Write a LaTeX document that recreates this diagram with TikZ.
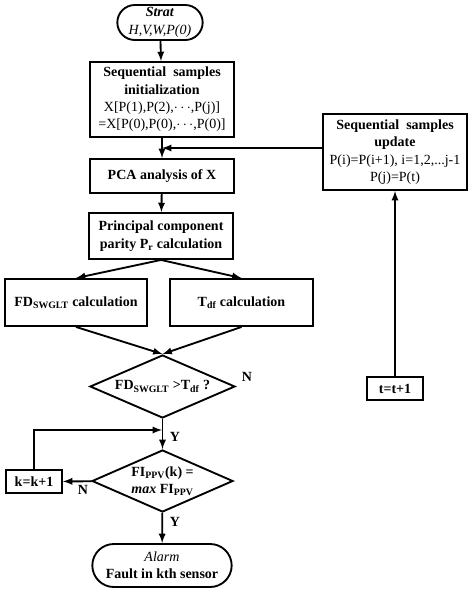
\documentclass[tikz,border=0pt]{standalone}
\usepackage{fontspec}
\setmainfont{Liberation Serif}
\usetikzlibrary{shapes.geometric,shapes.misc}

\begin{document}
\begin{tikzpicture}[x=0.75pt,y=-0.75pt,
  every node/.style={font=\fontsize{10.5}{13}\selectfont},
  box/.style={draw,line width=1.4pt,align=center,inner sep=1pt},
  term/.style={box,rounded rectangle},
  test/.style={box,diamond,aspect=2.3,inner sep=0pt},
  flow/.style={line width=1.4pt,-latex},
  lab/.style={font=\fontsize{10.5}{13}\selectfont\bfseries}]
\useasboundingbox (0,0) rectangle (474,594);
\begin{scope}[]
  % main column
  \node[term,minimum width=88*0.75pt,minimum height=35*0.75pt] (start) at (160,22.5)
    {\textbf{\textit{Strat}}\\ \textit{H,V,W,P(0)}};
  \node[box,minimum width=144*0.75pt,minimum height=75*0.75pt] (init) at (162,99.5)
    {\textbf{Sequential\ \ samples}\\ \textbf{initialization}\\
     X[P(1),P(2),$\cdots$,P(j)]\\ =X[P(0),P(0),$\cdots$,P(0)]};
  \node[box,minimum width=144*0.75pt,minimum height=34*0.75pt] (pca) at (162,176)
    {\textbf{PCA analysis of X}};
  \node[box,minimum width=144*0.75pt,minimum height=46*0.75pt] (princ) at (161,236)
    {\textbf{Principal component}\\ \textbf{parity P\textsubscript{r} calculation}};
  \node[box,minimum width=142*0.75pt,minimum height=47*0.75pt] (fd) at (76,302.5)
    {\textbf{FD\textsubscript{SWGLT} calculation}};
  \node[box,minimum width=143*0.75pt,minimum height=47*0.75pt] (tdf) at (241.5,302.5)
    {\textbf{T\textsubscript{df} calculation}};
  \node[test,minimum width=145*0.75pt,minimum height=63*0.75pt] (cmp) at (162.5,386.5)
    {\textbf{FD\textsubscript{SWGLT} >T\textsubscript{df} ?}};
  \node[test,minimum width=141*0.75pt,minimum height=62*0.75pt] (maxfi) at (162.5,481)
    {\textbf{FI\textsubscript{PPV}(k) =}\\ \textbf{\textit{max} FI\textsubscript{PPV}}};
  \node[box,minimum width=56*0.75pt,minimum height=23*0.75pt] (kinc) at (34,481.5)
    {\textbf{k=k+1}};
  \node[term,minimum width=142*0.75pt,minimum height=43*0.75pt] (alarm) at (162,565.5)
    {\textit{Alarm}\\ \textbf{Fault in kth sensor}};
  % update branch
  \node[box,minimum width=144*0.75pt,minimum height=76*0.75pt] (update) at (395,152)
    {\textbf{Sequential\ \ samples}\\ \textbf{update}\\
     P(i)=P(i+1), i=1,2,...j-1\\ P(j)=P(t)};
  \node[box,minimum width=56*0.75pt,minimum height=23*0.75pt] (tinc) at (395,388.5)
    {\textbf{t=t+1}};
  \coordinate (back) at (162,148);
  \coordinate (loop) at (162,430);

  \draw[flow] (start) -- (init);
  \draw[flow] (init) -- (pca);
  \draw[flow] (pca) -- (princ);
  \draw[flow] (princ.south) -- (fd.north);
  \draw[flow] (princ.south) -- (tdf.north);
  \draw[flow] (fd.south) -- (cmp.north);
  \draw[flow] (tdf.south) -- (cmp.north);
  \draw[flow] (cmp) -- (maxfi);
  \draw[flow] (maxfi) -- (alarm);
  \draw[flow] (maxfi) -- (kinc);
  \draw[flow] (kinc.north) |- (loop);
  \draw[flow] (tinc) -- (update);
  \draw[flow] (update.west |- back) -- (back);

  \node[lab] at (175,437) {Y};
  \node[lab] at (175,522) {Y};
  \node[lab] at (247,377) {N};
  \node[lab] at (83,490) {N};
\end{scope}
\end{tikzpicture}
\end{document}
